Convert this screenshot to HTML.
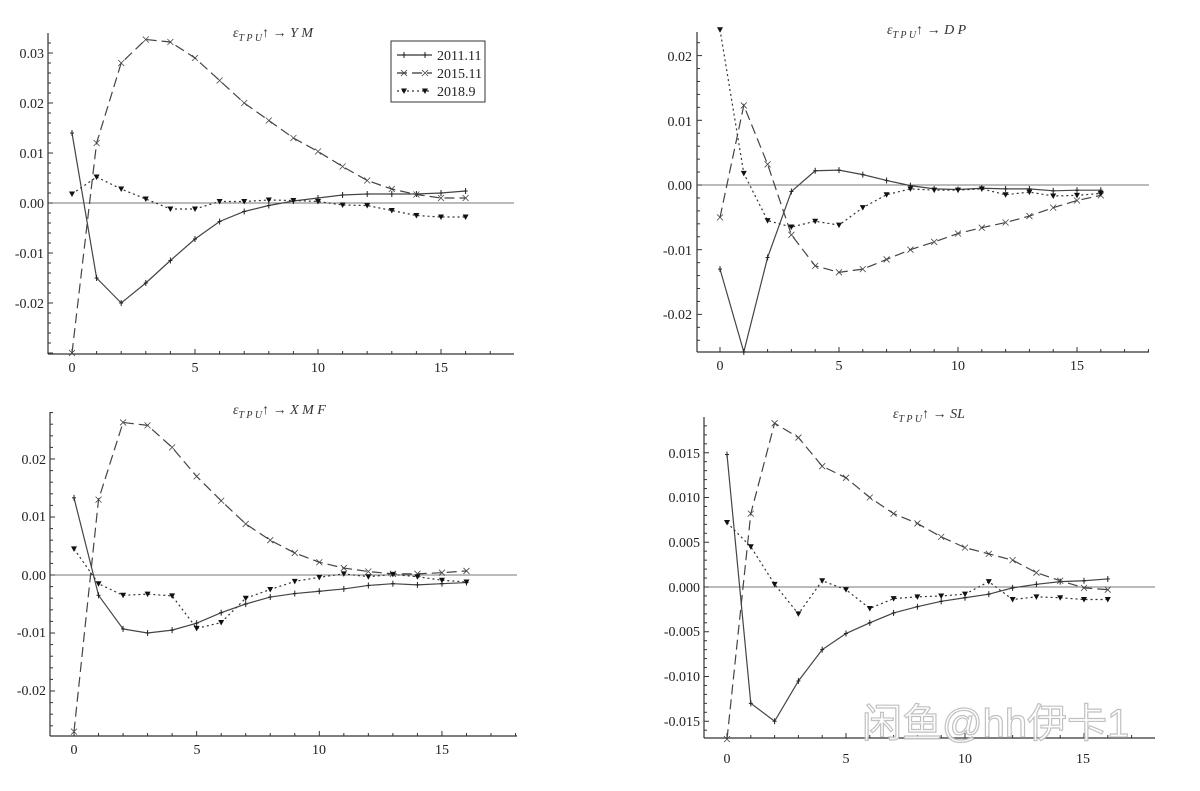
<!DOCTYPE html>
<html><head><meta charset="utf-8">
<style>
body{margin:0;background:#fff;}
svg{display:block;font-family:"Liberation Serif",serif;}
.t{font-size:14px;fill:#222;font-family:"Liberation Serif",serif;}
.ti{font-size:14px;font-style:italic;fill:#333;font-family:"Liberation Serif",serif;}
</style></head><body>
<svg id="s" width="1200" height="791" viewBox="0 0 1200 791" xmlns="http://www.w3.org/2000/svg">
<rect width="1200" height="791" fill="#fff"/>
<rect x="391" y="41" width="94" height="61" fill="#fff" stroke="#333" stroke-width="1"/>
<g id="g"></g>
<!-- Titles -->
<text class="ti" x="233" y="37">ε<tspan font-size="10" dy="4">T P U</tspan><tspan dy="-4">↑ → Y M</tspan></text>
<text class="ti" x="887" y="34">ε<tspan font-size="10" dy="4">T P U</tspan><tspan dy="-4">↑ → D P</tspan></text>
<text class="ti" x="233" y="414">ε<tspan font-size="10" dy="4">T P U</tspan><tspan dy="-4">↑ → X M F</tspan></text>
<text class="ti" x="893" y="418">ε<tspan font-size="10" dy="4">T P U</tspan><tspan dy="-4">↑ → SL</tspan></text>
<g class="t" text-anchor="end">
<text x="44" y="58">0.03</text><text x="44" y="108">0.02</text><text x="44" y="158">0.01</text><text x="44" y="208">0.00</text><text x="44" y="258">-0.01</text><text x="44" y="308">-0.02</text>
<text x="692" y="61">0.02</text><text x="692" y="126">0.01</text><text x="692" y="190">0.00</text><text x="692" y="255">-0.01</text><text x="692" y="319">-0.02</text>
<text x="46" y="464">0.02</text><text x="46" y="521">0.01</text><text x="46" y="580">0.00</text><text x="46" y="637">-0.01</text><text x="46" y="695">-0.02</text>
<text x="700" y="458">0.015</text><text x="700" y="502">0.010</text><text x="700" y="547">0.005</text><text x="700" y="592">0.000</text><text x="700" y="636">-0.005</text><text x="700" y="681">-0.010</text><text x="700" y="726">-0.015</text>
</g>
<g class="t" text-anchor="middle">
<text x="72" y="372">0</text><text x="195" y="372">5</text><text x="318" y="372">10</text><text x="441" y="372">15</text>
<text x="720" y="370">0</text><text x="839" y="370">5</text><text x="958" y="370">10</text><text x="1077" y="370">15</text>
<text x="74" y="754">0</text><text x="197" y="754">5</text><text x="319" y="754">10</text><text x="442" y="754">15</text>
<text x="727" y="763">0</text><text x="846" y="763">5</text><text x="965" y="763">10</text><text x="1083" y="763">15</text>
</g>
<text class="t" x="437" y="60">2011.11</text>
<text class="t" x="437" y="78">2015.11</text>
<text class="t" x="437" y="96">2018.9</text>
<text x="862" y="737" font-family="'Liberation Sans','Noto Sans CJK SC',sans-serif" font-size="40" fill="#fff" stroke="#bbb" stroke-width="1.2" opacity="0.9">闲鱼@hh伊卡1</text>
</svg>
<script>
const P=[
{L:48,B:354,R:514,T:33,x0:72,xs:24.6,y0:203,ys:5000,ymin:-0.03,ymax:0.034,
d:[[0.014,-0.015,-0.020,-0.016,-0.0115,-0.0072,-0.0037,-0.0017,-0.0005,0.0004,0.001,0.0016,0.0018,0.0018,0.0018,0.002,0.0024],
[-0.030,0.012,0.028,0.0327,0.0322,0.029,0.0245,0.020,0.0165,0.013,0.0103,0.0073,0.0045,0.0028,0.0017,0.001,0.001],
[0.0018,0.0052,0.0028,0.0008,-0.0012,-0.0012,0.0003,0.0003,0.0006,0.0005,0.0003,-0.0004,-0.0005,-0.0015,-0.0025,-0.0028,-0.0028]]},
{L:697,B:352,R:1149,T:32,x0:720,xs:23.8,y0:185,ys:6470,ymin:-0.026,ymax:0.024,
d:[[-0.013,-0.0258,-0.0112,-0.001,0.0022,0.0023,0.0016,0.0007,-0.0001,-0.0006,-0.0007,-0.0005,-0.0006,-0.0006,-0.0009,-0.0008,-0.0008],
[-0.005,0.0123,0.0032,-0.0077,-0.0125,-0.0135,-0.013,-0.0115,-0.010,-0.0088,-0.0075,-0.0066,-0.0058,-0.0048,-0.0035,-0.0024,-0.0016],
[0.024,0.0018,-0.0055,-0.0065,-0.0056,-0.0062,-0.0035,-0.0015,-0.0006,-0.0008,-0.0008,-0.0006,-0.0015,-0.0011,-0.0017,-0.0016,-0.0013]]},
{L:50,B:736,R:517,T:412,x0:74,xs:24.53,y0:575,ys:5800,ymin:-0.027,ymax:0.028,
d:[[0.0133,-0.0035,-0.0093,-0.010,-0.0095,-0.0083,-0.0065,-0.005,-0.0038,-0.0032,-0.0028,-0.0024,-0.0018,-0.0015,-0.0017,-0.0015,-0.0013],
[-0.027,0.013,0.0263,0.0258,0.022,0.017,0.0128,0.0088,0.006,0.0038,0.0022,0.0012,0.0006,0.0002,0.0002,0.0004,0.0007],
[0.0045,-0.0015,-0.0035,-0.0033,-0.0036,-0.0092,-0.0082,-0.004,-0.0025,-0.0011,-0.0004,0.0002,-0.0003,0.0001,-0.0003,-0.0009,-0.0012]]},
{L:704,B:738,R:1155,T:417,x0:727,xs:23.8,y0:587,ys:8950,ymin:-0.017,ymax:0.019,
d:[[0.0148,-0.013,-0.015,-0.0105,-0.007,-0.0052,-0.004,-0.0029,-0.0022,-0.0016,-0.0012,-0.0008,-0.0001,0.0003,0.0006,0.0007,0.0009],
[-0.017,0.0082,0.0183,0.0167,0.0135,0.0122,0.010,0.0082,0.0071,0.0056,0.0044,0.0037,0.003,0.0016,0.0007,-0.0001,-0.0003],
[0.0072,0.0045,0.0003,-0.003,0.0007,-0.0003,-0.0024,-0.0013,-0.0011,-0.001,-0.0008,0.0006,-0.0014,-0.0011,-0.0012,-0.0014,-0.0014]]}
];
const minor=[0.002,0.002,0.002,0.001];
let h='';
const dash=['','10,5','2,3'];
function mk(k,x,y){
 if(k==0)return `<line x1="${x}" y1="${y-3}" x2="${x}" y2="${y+3}" stroke="#222"/><line x1="${x-2}" y1="${y}" x2="${x+2}" y2="${y}" stroke="#222"/>`;
 if(k==1)return `<path d="M${x-3} ${y-3}L${x+3} ${y+3}M${x-3} ${y+3}L${x+3} ${y-3}" stroke="#444" stroke-width="0.8"/>`;
 return `<path d="M${x-3} ${y-2.5}L${x+3} ${y-2.5}L${x} ${y+3}Z" fill="#111"/>`;
}
P.forEach((p,i)=>{
 h+=`<line x1="${p.L}" y1="${p.B}" x2="${p.R}" y2="${p.B}" stroke="#333" stroke-width="1.2"/>`;
 h+=`<line x1="${p.L}" y1="${p.B}" x2="${p.L}" y2="${p.T}" stroke="#333" stroke-width="1.2"/>`;
 h+=`<line x1="${p.L}" y1="${p.y0}" x2="${p.R}" y2="${p.y0}" stroke="#777"/>`;
 for(let k=-1;k<=18;k++){const x=p.x0+k*p.xs;if(x<p.L||x>p.R)continue;const len=k%5==0?5:3;h+=`<line x1="${x}" y1="${p.B}" x2="${x}" y2="${p.B-len}" stroke="#333"/>`;}
 const m=minor[i];
 for(let v=Math.ceil(p.ymin/m)*m;v<=p.ymax+1e-9;v+=m){const y=p.y0-v*p.ys;if(y>p.B||y<p.T)continue;const maj=Math.abs(Math.round(v/(m*5))*(m*5)-v)<1e-9;h+=`<line x1="${p.L}" y1="${y}" x2="${p.L+(maj?5:3)}" y2="${y}" stroke="#333"/>`;}
 p.d.forEach((s,k)=>{
  const pts=s.map((v,j)=>[p.x0+j*p.xs,p.y0-v*p.ys]);
  h+=`<polyline fill="none" stroke="${k==2?'#333':'#444'}" stroke-width="1.2" ${dash[k]?`stroke-dasharray="${dash[k]}"`:''} points="${pts.map(q=>q.join(',')).join(' ')}"/>`;
  pts.forEach(q=>h+=mk(k,q[0],q[1]));
 });
});
[[55,0],[73,1],[91,2]].forEach(([y,k])=>{h+=`<line x1="397" y1="${y}" x2="432" y2="${y}" stroke="#333" stroke-width="1.2" ${dash[k]?`stroke-dasharray="${dash[k]}"`:''}/>`+mk(k,404,y)+mk(k,425,y);});
document.getElementById('g').innerHTML=h;
</script>
</body></html>
